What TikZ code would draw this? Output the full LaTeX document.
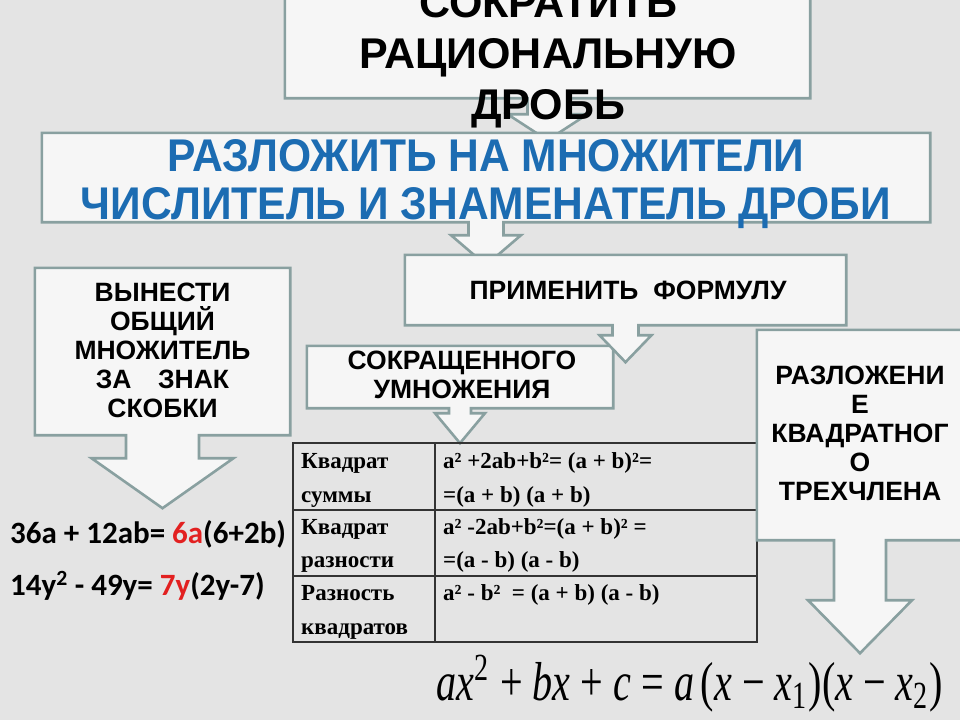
\documentclass[tikz,border=0pt]{standalone}
\usepackage{fontspec}
\usepackage{graphicx}
\setmainfont{Liberation Sans}
\newfontfamily\tabfont{Liberation Serif}
\newfontfamily\exfont{Carlito}
\usetikzlibrary{calc}
\definecolor{paper}{RGB}{228,228,228}
\definecolor{panelfill}{RGB}{246,246,246}
\definecolor{panelline}{RGB}{137,160,160}
\definecolor{blueword}{RGB}{28,108,178}
\definecolor{redword}{RGB}{226,32,32}
% box with a down arrow under it: node, stem half, stem length, head half, head length
\newcommand{\calloutbox}[5]{%
	\draw[callout] (#1.south west) -- (#1.north west) -- (#1.north east) -- (#1.south east)
		-- ($(#1.south)+(#2,0)$) -- ++(0,#3) -- ++(#4-#2,0) -- ++(-#4,#5) -- ++(-#4,-#5)
		-- ++(#4-#2,0) -- ++(0,-#3) -- cycle;}

\begin{document}
\begin{tikzpicture}[x=1pt,y=-1pt,
	panel/.style={rectangle,inner sep=0pt,align=center},
	boxfont/.style={font=\bfseries\fontsize{26.5}{29}\selectfont},
	callout/.style={draw=panelline,fill=panelfill,line width=2.6pt,line join=miter},
	tabline/.style={draw=black!80,line width=1.1pt},
	cell/.style={anchor=base west,inner sep=0pt,font=\tabfont\bfseries\fontsize{23}{26}\selectfont}]
	\useasboundingbox (0,0) rectangle (960,720);
	\fill[paper] (0,0) rectangle (960,720);
	\clip (0,0) rectangle (960,720);

	% top box
	\node[panel,minimum width=525pt,minimum height=112pt] (reduce) at (547.5,42) {};
	\calloutbox{reduce}{20}{16}{40}{26}
	\node[panel,anchor=north,font=\bfseries\fontsize{43}{51}\selectfont] (reducetext) at (548,-13)
		{СОКРАТИТЬ\\РАЦИОНАЛЬНУЮ\\ДРОБЬ};

	% factor out
	\node[panel,minimum width=888pt,minimum height=89pt] (factor) at (486,177.5) {};
	\calloutbox{factor}{17.5}{13}{35}{30}
	\node[panel,anchor=north,text=blueword,font=\bfseries\fontsize{34}{48}\selectfont] (factortext) at (486,139)
		{\resizebox{637pt}{32pt}{РАЗЛОЖИТЬ НА МНОЖИТЕЛИ}\\\resizebox{810pt}{32pt}{ЧИСЛИТЕЛЬ И ЗНАМЕНАТЕЛЬ ДРОБИ}};

	% left branch
	\node[panel,minimum width=255pt,minimum height=167pt] (bracket) at (162.5,351.5) {};
	\calloutbox{bracket}{36.5}{23}{71}{50}
	\node[panel,boxfont] (brackettext) at (162.5,350)
		{ВЫНЕСТИ\\ОБЩИЙ\\МНОЖИТЕЛЬ\\ЗА\quad ЗНАК\\СКОБКИ};

	% middle branch
	\node[panel,minimum width=306pt,minimum height=62pt] (abbrev) at (460,377) {};
	\calloutbox{abbrev}{11}{5}{25}{30}
	\node[panel,boxfont] (abbrevtext) at (462,375)
		{СОКРАЩЕННОГО\\УМНОЖЕНИЯ};
	\node[panel,minimum width=441pt,minimum height=70pt] (apply) at (625.5,290) {};
	\calloutbox{apply}{13}{10}{26}{27}
	\node[panel,boxfont] (applytext) at (628,290)
		{ПРИМЕНИТЬ\ \ ФОРМУЛУ};

	% table of formulas
	\draw[tabline] (293,443) rectangle (757,642);
	\foreach \y in {510,576}
		\draw[tabline] (293,\y) -- (757,\y);
	\draw[tabline] (435,443) -- (435,642);
	\node[cell] (sumsq) at (301,468) {Квадрат};
	\node[cell] (sumsqb) at (301,502) {суммы};
	\node[cell] (diffsq) at (301,534) {Квадрат};
	\node[cell] (diffsqb) at (301,567) {разности};
	\node[cell] (sqdiff) at (301,600) {Разность};
	\node[cell] (sqdiffb) at (301,634) {квадратов};
	\node[cell] (sumsqf) at (443,468) {a² +2ab+b²= (a + b)²=};
	\node[cell] (sumsqfb) at (443,502) {=(a + b) (a + b)};
	\node[cell] (diffsqf) at (443,534) {a² -2ab+b²=(a + b)² =};
	\node[cell] (diffsqfb) at (443,567) {=(a - b) (a - b)};
	\node[cell] (sqdifff) at (443,600) {a² - b²\ \ = (a + b) (a - b)};

	% right branch
	\node[panel,minimum width=206pt,minimum height=210pt] (trinom) at (860,435) {};
	\calloutbox{trinom}{26}{60}{52}{53}
	\node[panel,boxfont] (trinomtext) at (860,433)
		{РАЗЛОЖЕНИ\\Е\\КВАДРАТНОГ\\О\\ТРЕХЧЛЕНА};

	% examples
	\node[anchor=base west,inner sep=0pt,font=\exfont\bfseries\fontsize{31}{34}\selectfont] (ex1) at (10,543)
		{36a + 12ab= \textcolor{redword}{6a}(6+2b)};
	\node[anchor=base west,inner sep=0pt,font=\exfont\bfseries\fontsize{31}{34}\selectfont] (ex2) at (10,595)
		{14y\textsuperscript{2} - 49y= \textcolor{redword}{7y}(2y-7)};
	\node[anchor=south west,inner sep=0pt,font=\tabfont] (quadform) at (436,712)
		{\resizebox*{507pt}{57pt}{\textit{ax}\textsuperscript{2} + \textit{bx} + \textit{c} = \textit{a}\,(\textit{x} − \textit{x}\textsubscript{1})(\textit{x} − \textit{x}\textsubscript{2})}};
\end{tikzpicture}
\end{document}
